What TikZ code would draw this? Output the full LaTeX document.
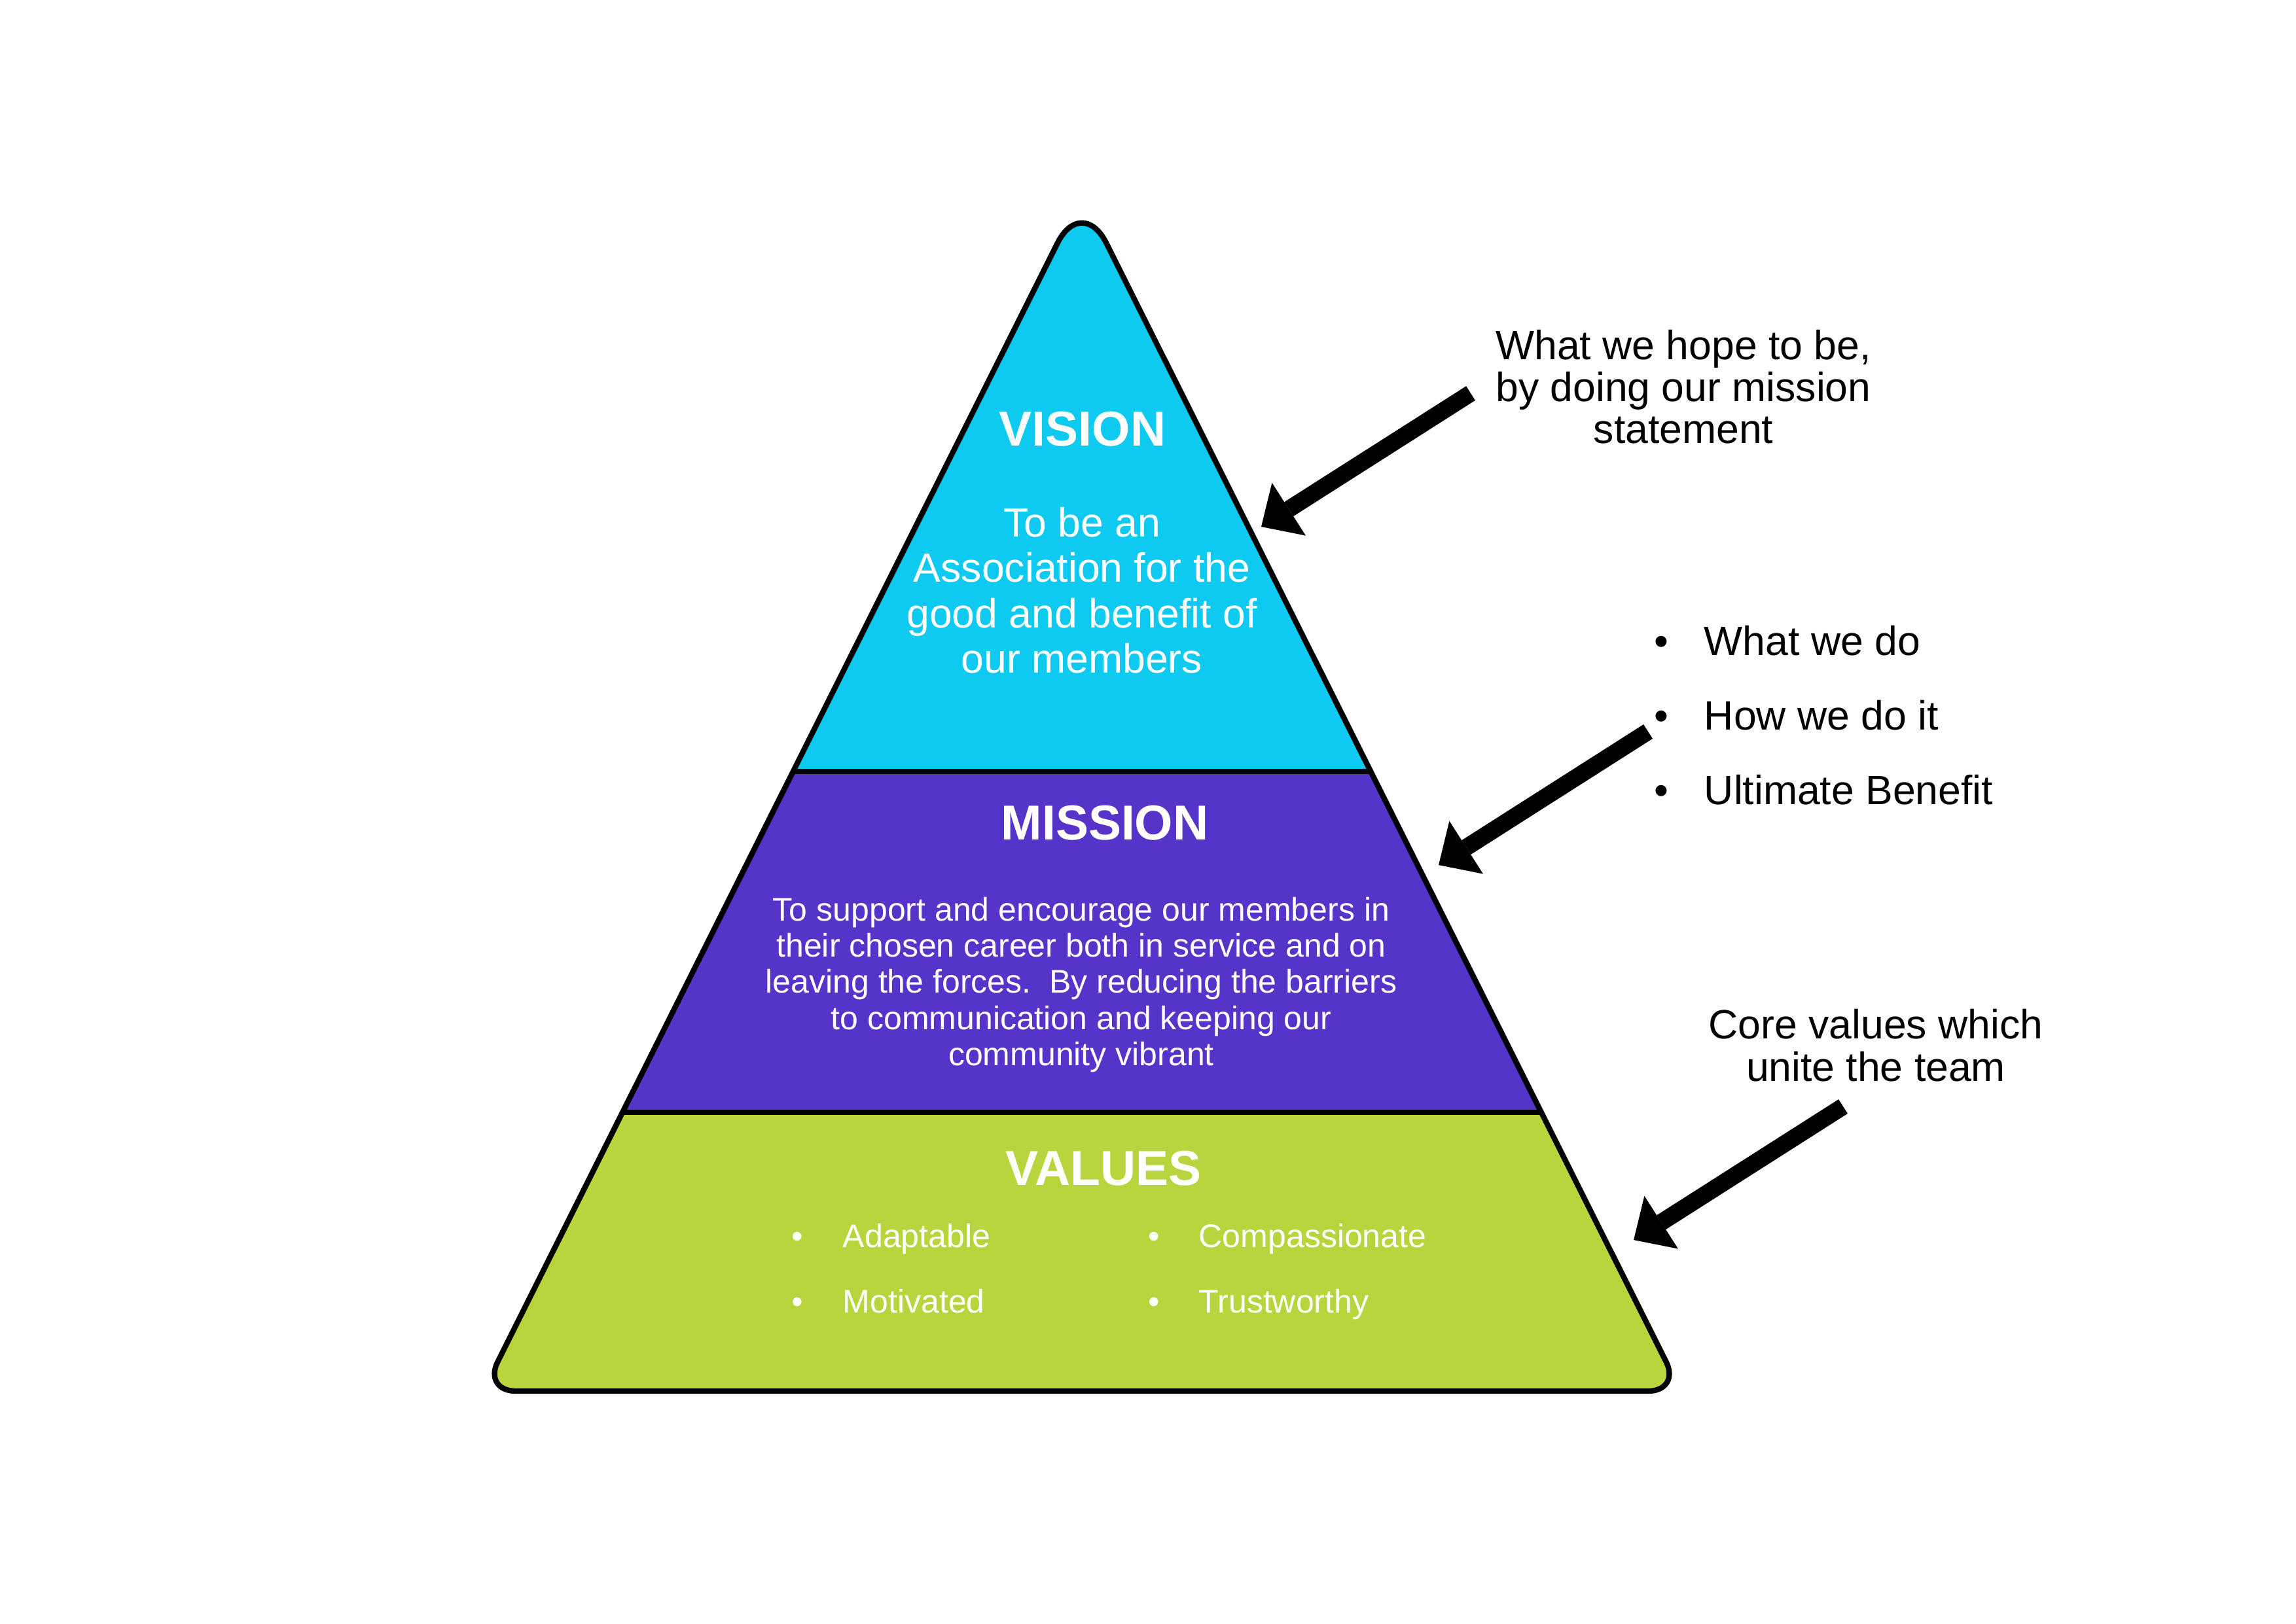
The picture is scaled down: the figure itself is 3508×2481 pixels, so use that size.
\documentclass[tikz,border=0pt]{standalone}
\usepackage{fontspec}
\setmainfont{Liberation Sans}
\usetikzlibrary{arrows.meta}
\definecolor{visioncyan}{RGB}{14,201,240}
\definecolor{missionpurple}{RGB}{87,52,201}
\definecolor{valuesgreen}{RGB}{185,213,62}

\begin{document}
\begin{tikzpicture}[
  x=0.24pt, y=-0.24pt,
  heading/.style={text=white, anchor=base, inner sep=0pt,
    font=\fontsize{18}{21}\selectfont\bfseries},
  blurb/.style={text=white, align=center, anchor=north, inner sep=0pt},
  remark/.style={text=black, align=center, anchor=north, inner sep=0pt,
    font=\fontsize{15}{15.4}\selectfont},
  listitem/.style={anchor=base west, inner sep=0pt},
  bulletmark/.style={anchor=base, inner sep=0pt},
  pyramidline/.style={draw=black, line width=2pt, line join=round},
  pointer/.style={-{Triangle[length=12pt,width=23pt,line width=0pt]},
    draw=black, line width=6.2pt}
]

% Page
\fill[white] (0,0) rectangle (3508,2481);
\useasboundingbox (0,0) rectangle (3508,2481);

% Pyramid corners and band dividers
\coordinate (apex) at (1653,297);
\coordinate (baseleft) at (738,2126);
\coordinate (baseright) at (2568,2126);
\coordinate (basemid) at (1653,2126);
\coordinate (upperleft) at (1150,1179);
\coordinate (upperright) at (2160,1179);
\coordinate (lowerleft) at (890,1700);
\coordinate (lowerright) at (2420,1700);

\begin{scope}
  \clip[rounded corners=12pt] (basemid) -- (baseright) [rounded corners=20pt] -- (apex)
    [rounded corners=12pt] -- (baseleft) -- cycle;
  \fill[visioncyan] (0,0) rectangle (3508,1179);
  \fill[missionpurple] (0,1179) rectangle (3508,1700);
  \fill[valuesgreen] (0,1700) rectangle (3508,2481);
  \draw[pyramidline] (upperleft) -- (upperright);
  \draw[pyramidline] (lowerleft) -- (lowerright);
\end{scope}
\draw[pyramidline, rounded corners=12pt] (basemid) -- (baseright) [rounded corners=20pt] -- (apex)
  [rounded corners=12pt] -- (baseleft) -- cycle;

% Vision band
\node[heading] (vision_title) at (1654,681) {VISION};
\node[blurb, font=\fontsize{15}{16.7}\selectfont] (vision_text) at (1653,774)
  {To be an\\Association for the\\good and benefit of\\our members};

% Mission band
\node[heading] (mission_title) at (1688,1283) {MISSION};
\node[blurb, font=\fontsize{12}{13.3}\selectfont] (mission_text) at (1652,1370)
  {To support and encourage our members in\\their chosen career both in service and on\\leaving the forces.\ \ By reducing the barriers\\to communication and keeping our\\community vibrant};

% Values band
\node[heading] (values_title) at (1686,1811) {VALUES};
\begin{scope}[every node/.append style={text=white, font=\fontsize{12}{14}\selectfont}]
  \node[bulletmark] (adapt_dot) at (1218,1906) {•};
  \node[listitem] (adapt) at (1287,1906) {Adaptable};
  \node[bulletmark] (motiv_dot) at (1218,2006) {•};
  \node[listitem] (motiv) at (1287,2006) {Motivated};
  \node[bulletmark] (compa_dot) at (1763,1906) {•};
  \node[listitem] (compa) at (1831,1906) {Compassionate};
  \node[bulletmark] (trust_dot) at (1763,2006) {•};
  \node[listitem] (trust) at (1831,2006) {Trustworthy};
\end{scope}

% Notes on the right
\node[remark] (vision_note) at (2572,503)
  {What we hope to be,\\by doing our mission\\statement};
\begin{scope}[every node/.append style={font=\fontsize{15}{16}\selectfont}]
  \node[bulletmark] (what_dot) at (2538,1001) {•};
  \node[listitem] (what) at (2603,1001) {What we do};
  \node[bulletmark] (how_dot) at (2538,1115) {•};
  \node[listitem] (how) at (2603,1115) {How we do it};
  \node[bulletmark] (benefit_dot) at (2538,1229) {•};
  \node[listitem] (benefit) at (2603,1229) {Ultimate Benefit};
\end{scope}
\node[remark, font=\fontsize{15}{15.6}\selectfont] (values_note) at (2866,1541)
  {Core values which\\unite the team};

% Pointers
\coordinate (vision_tail) at (2247,601);
\coordinate (vision_tip) at (1927,805);
\coordinate (mission_tail) at (2518,1118);
\coordinate (mission_tip) at (2198,1322);
\coordinate (values_tail) at (2816,1691);
\coordinate (values_tip) at (2496,1895);
\draw[pointer] (vision_tail) -- (vision_tip);
\draw[pointer] (mission_tail) -- (mission_tip);
\draw[pointer] (values_tail) -- (values_tip);

\end{tikzpicture}
\end{document}
